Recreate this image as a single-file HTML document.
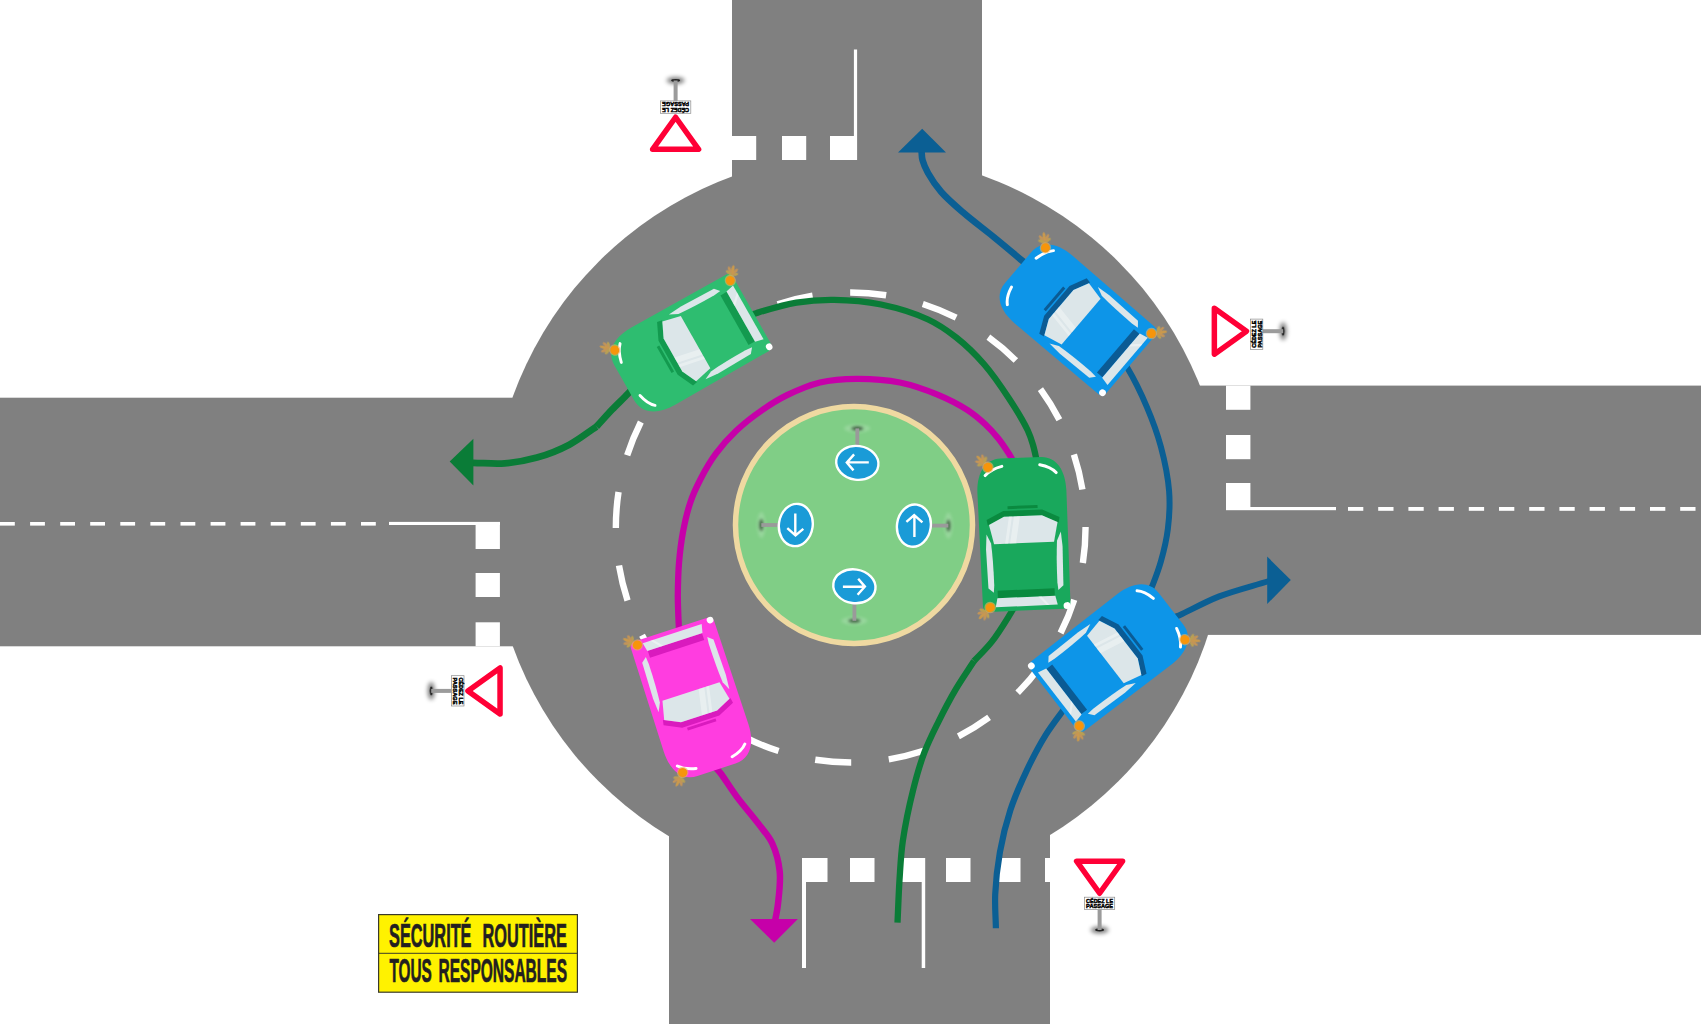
<!DOCTYPE html>
<html><head><meta charset="utf-8"><style>
html,body{margin:0;padding:0;background:#fff;overflow:hidden;}
svg{display:block;}
</style></head><body>
<svg width="1701" height="1024" viewBox="0 0 1701 1024">
<defs><filter id="blur" x="-100%" y="-100%" width="300%" height="300%"><feGaussianBlur stdDeviation="1.6"/></filter><filter id="blur5" x="-50%" y="-50%" width="200%" height="200%"><feGaussianBlur stdDeviation="0.5"/></filter><filter id="blur2" x="-100%" y="-100%" width="300%" height="300%"><feGaussianBlur stdDeviation="2.2"/></filter></defs>
<rect x="732" y="0" width="250" height="200" fill="#808080"/>
<rect x="669" y="800" width="381" height="224" fill="#808080"/>
<rect x="0" y="397.7" width="540" height="248.6" fill="#808080"/>
<rect x="1170" y="385.6" width="531" height="249.3" fill="#808080"/>
<circle cx="858.5" cy="521.5" r="367.5" fill="#808080"/>
<rect x="0.0" y="522" width="14.8" height="3.6" fill="#fff"/>
<rect x="30.1" y="522" width="14.8" height="3.6" fill="#fff"/>
<rect x="60.2" y="522" width="14.8" height="3.6" fill="#fff"/>
<rect x="90.2" y="522" width="14.8" height="3.6" fill="#fff"/>
<rect x="120.3" y="522" width="14.8" height="3.6" fill="#fff"/>
<rect x="150.4" y="522" width="14.8" height="3.6" fill="#fff"/>
<rect x="180.5" y="522" width="14.8" height="3.6" fill="#fff"/>
<rect x="210.6" y="522" width="14.8" height="3.6" fill="#fff"/>
<rect x="240.6" y="522" width="14.8" height="3.6" fill="#fff"/>
<rect x="270.7" y="522" width="14.8" height="3.6" fill="#fff"/>
<rect x="300.8" y="522" width="14.8" height="3.6" fill="#fff"/>
<rect x="330.9" y="522" width="14.8" height="3.6" fill="#fff"/>
<rect x="361.0" y="522" width="14.8" height="3.6" fill="#fff"/>
<rect x="389" y="521.9" width="111" height="3.1" fill="#fff"/>
<rect x="475.6" y="525" width="24.3" height="24" fill="#fff"/>
<rect x="475.6" y="573" width="24.3" height="24" fill="#fff"/>
<rect x="475.6" y="622.3" width="24.3" height="24" fill="#fff"/>
<rect x="1226" y="507" width="110" height="3.2" fill="#fff"/>
<rect x="1226" y="385.6" width="24.4" height="24.2" fill="#fff"/>
<rect x="1226" y="435" width="24.4" height="24.2" fill="#fff"/>
<rect x="1226" y="483" width="24.4" height="24.2" fill="#fff"/>
<rect x="1348.0" y="507" width="15.3" height="3.8" fill="#fff"/>
<rect x="1378.2" y="507" width="15.3" height="3.8" fill="#fff"/>
<rect x="1408.4" y="507" width="15.3" height="3.8" fill="#fff"/>
<rect x="1438.6" y="507" width="15.3" height="3.8" fill="#fff"/>
<rect x="1468.8" y="507" width="15.3" height="3.8" fill="#fff"/>
<rect x="1499.0" y="507" width="15.3" height="3.8" fill="#fff"/>
<rect x="1529.2" y="507" width="15.3" height="3.8" fill="#fff"/>
<rect x="1559.4" y="507" width="15.3" height="3.8" fill="#fff"/>
<rect x="1589.6" y="507" width="15.3" height="3.8" fill="#fff"/>
<rect x="1619.8" y="507" width="15.3" height="3.8" fill="#fff"/>
<rect x="1650.0" y="507" width="15.3" height="3.8" fill="#fff"/>
<rect x="1680.2" y="507" width="15.3" height="3.8" fill="#fff"/>
<rect x="732" y="136" width="24.2" height="24" fill="#fff"/>
<rect x="782" y="136" width="24.2" height="24" fill="#fff"/>
<rect x="830" y="136" width="24.2" height="24" fill="#fff"/>
<rect x="853.9" y="49.5" width="3.2" height="110.5" fill="#fff"/>
<rect x="803" y="858" width="24.5" height="24" fill="#fff"/>
<rect x="850" y="858" width="24.5" height="24" fill="#fff"/>
<rect x="900.5" y="858" width="24.5" height="24" fill="#fff"/>
<rect x="946" y="858" width="24.5" height="24" fill="#fff"/>
<rect x="996" y="858" width="24.5" height="24" fill="#fff"/>
<rect x="1045" y="858" width="24.5" height="24" fill="#fff"/>
<rect x="1045" y="858" width="10" height="24" fill="#fff"/>
<rect x="802" y="858" width="4" height="110" fill="#fff"/>
<rect x="921.7" y="858" width="3.5" height="110" fill="#fff"/>
<path d="M1073.88,454.55 A234.8,234.8 0 1 1 627.52,600.45 A234.8,234.8 0 1 1 1073.88,454.55" fill="none" stroke="#fff" stroke-width="6.4" stroke-dasharray="36.06 37.70"/>
<circle cx="854" cy="525" r="118.5" fill="#80CE86" stroke="#EFD9A1" stroke-width="5.5"/>
<g transform="translate(854.4,586.3) rotate(0)"><ellipse cx="0" cy="34.5" rx="13" ry="4" fill="#fff" opacity="0.18" filter="url(#blur)"/><ellipse cx="0" cy="34.5" rx="6" ry="1.8" fill="#000" opacity="0.6" filter="url(#blur)"/><rect x="-1.9" y="17" width="3.8" height="17.5" fill="#9a9a9a"/><ellipse cx="0" cy="0" rx="21.2" ry="16.9" transform="rotate(8)" fill="#1A9BD7" stroke="#fff" stroke-width="2.4"/><path d="M-11.5,0.5 H10.5 M3.8,-7.5 L10.5,0.3 L3.2,8.5" fill="none" stroke="#fff" stroke-width="2.4"/></g>
<g transform="translate(857.3,462.9) rotate(180)"><ellipse cx="0" cy="34.5" rx="13" ry="4" fill="#fff" opacity="0.18" filter="url(#blur)"/><ellipse cx="0" cy="34.5" rx="6" ry="1.8" fill="#000" opacity="0.6" filter="url(#blur)"/><rect x="-1.9" y="17" width="3.8" height="17.5" fill="#9a9a9a"/><ellipse cx="0" cy="0" rx="21.2" ry="16.9" transform="rotate(8)" fill="#1A9BD7" stroke="#fff" stroke-width="2.4"/><path d="M-11.5,0.5 H10.5 M3.8,-7.5 L10.5,0.3 L3.2,8.5" fill="none" stroke="#fff" stroke-width="2.4"/></g>
<g transform="translate(795.8,525) rotate(90)"><ellipse cx="0" cy="34.5" rx="13" ry="4" fill="#fff" opacity="0.18" filter="url(#blur)"/><ellipse cx="0" cy="34.5" rx="6" ry="1.8" fill="#000" opacity="0.6" filter="url(#blur)"/><rect x="-1.9" y="17" width="3.8" height="17.5" fill="#9a9a9a"/><ellipse cx="0" cy="0" rx="21.2" ry="16.9" transform="rotate(8)" fill="#1A9BD7" stroke="#fff" stroke-width="2.4"/><path d="M-11.5,0.5 H10.5 M3.8,-7.5 L10.5,0.3 L3.2,8.5" fill="none" stroke="#fff" stroke-width="2.4"/></g>
<g transform="translate(913.9,525.6) rotate(-90)"><ellipse cx="0" cy="34.5" rx="13" ry="4" fill="#fff" opacity="0.18" filter="url(#blur)"/><ellipse cx="0" cy="34.5" rx="6" ry="1.8" fill="#000" opacity="0.6" filter="url(#blur)"/><rect x="-1.9" y="17" width="3.8" height="17.5" fill="#9a9a9a"/><ellipse cx="0" cy="0" rx="21.2" ry="16.9" transform="rotate(8)" fill="#1A9BD7" stroke="#fff" stroke-width="2.4"/><path d="M-11.5,0.5 H10.5 M3.8,-7.5 L10.5,0.3 L3.2,8.5" fill="none" stroke="#fff" stroke-width="2.4"/></g>
<path d="M897.5,922.6 C898.2,908.4 898.6,893.9 899.5,880.0 C900.4,866.7 900.8,854.9 902.8,841.1 C905.1,825.3 909.1,806.0 913.0,790.4 C916.4,776.7 919.9,764.2 924.4,752.4 C928.5,741.5 933.3,732.1 938.4,721.8 C943.8,710.9 949.9,699.3 956.0,688.9 C961.8,679.1 968.0,670.3 974.0,661.0" fill="none" stroke="#0A7C37" stroke-width="6.3" stroke-linecap="butt" stroke-linejoin="round"/>
<path d="M974.0,661.0 C979.9,654.6 986.1,649.0 991.7,641.9 C998.0,634.0 1005.1,622.3 1009.5,615.2 C1012.3,610.7 1013.8,607.7 1016.0,604.0" fill="none" stroke="#0A7C37" stroke-width="6.3" stroke-linecap="butt" stroke-linejoin="round"/>
<path d="M1037.0,462.0 C1035.7,456.3 1034.6,450.4 1033.0,445.0 C1031.5,439.9 1030.4,436.1 1027.8,430.5 C1023.7,421.8 1016.0,409.1 1009.0,398.5 C1001.6,387.2 993.4,375.0 984.5,364.7 C975.8,354.7 966.1,345.2 956.3,337.5 C947.2,330.4 939.1,324.6 928.1,319.5 C914.8,313.2 896.9,307.8 881.1,304.5 C865.6,301.3 848.9,300.0 834.1,299.8 C820.8,299.6 809.0,300.5 796.4,302.6 C783.3,304.8 766.2,310.1 756.9,312.9 C751.7,314.5 749.0,315.6 745.0,317.0" fill="none" stroke="#0A7C37" stroke-width="6.3" stroke-linecap="butt" stroke-linejoin="round"/>
<path d="M635.0,386.0 C632.5,388.7 630.5,391.1 627.5,394.2 C623.3,398.6 617.1,404.4 612.0,409.7 C606.8,415.2 601.7,421.0 596.5,426.6" fill="none" stroke="#0A7C37" stroke-width="6.8" stroke-linecap="butt" stroke-linejoin="round"/>
<path d="M596.5,426.6 C587.4,432.6 579.0,439.6 569.3,444.7 C559.3,450.0 547.9,454.5 537.0,457.6 C526.4,460.6 515.5,462.5 504.7,463.4 C494.1,464.2 483.6,463.0 473.0,462.8" fill="none" stroke="#0A7C37" stroke-width="6.8" stroke-linecap="butt" stroke-linejoin="round"/>
<path d="M449.7,461.5 L473.4,438.8 L473.4,485.4 Z" fill="#0A7C37"/>
<path d="M1014.0,463.0 C1013.2,461.3 1012.6,459.9 1011.5,458.0 C1010.0,455.3 1007.7,451.7 1005.5,448.5 C1003.1,444.9 1000.6,441.2 997.5,437.5 C994.0,433.2 989.8,428.6 985.2,424.3 C980.0,419.5 974.5,414.7 967.6,410.2 C959.1,404.7 948.3,399.2 937.5,394.7 C925.8,389.8 913.0,385.2 899.9,382.5 C886.1,379.7 870.4,378.7 856.6,378.8 C843.9,378.9 831.7,379.7 820.0,382.5 C808.5,385.2 797.1,390.3 787.0,395.2 C777.8,399.7 769.9,404.7 761.6,410.5 C752.9,416.5 743.9,423.5 736.2,430.8 C728.7,437.9 721.9,445.6 715.9,453.7 C710.0,461.7 704.9,470.6 700.6,479.0 C696.6,486.7 693.3,493.6 690.5,501.9 C687.3,511.2 684.8,522.2 682.9,532.4 C681.0,542.5 679.9,552.5 679.0,562.9 C678.1,573.7 677.9,586.9 677.8,595.9 C677.8,602.2 678.0,606.5 678.2,612.0 C678.4,617.8 678.7,624.0 679.0,630.0" fill="none" stroke="#C600A9" stroke-width="6.3" stroke-linecap="butt" stroke-linejoin="round"/>
<path d="M716.0,768.0 C717.5,769.7 718.6,770.6 720.4,773.0 C724.3,778.0 731.0,788.9 737.1,797.1 C743.8,806.1 753.0,816.5 759.3,824.9 C764.3,831.6 769.0,836.3 772.3,843.5 C776.0,851.6 778.7,861.5 779.7,871.3 C780.8,881.8 778.9,895.6 777.9,904.7 C777.2,911.1 776.0,915.6 775.1,921.0" fill="none" stroke="#C600A9" stroke-width="6.5" stroke-linecap="butt" stroke-linejoin="round"/>
<path d="M750,919 L797.9,919 L774.2,942.7 Z" fill="#C600A9"/>
<path d="M921.5,150.0 C921.8,153.3 921.6,156.5 922.5,160.0 C923.6,164.1 925.5,168.4 928.0,173.0 C931.3,178.9 935.9,185.8 941.3,192.0 C947.4,199.0 955.2,205.6 963.2,212.5 C972.1,220.2 983.0,228.3 992.5,236.0 C1001.6,243.4 1013.2,253.1 1018.9,257.9 C1021.6,260.2 1023.0,261.3 1025.0,263.0" fill="none" stroke="#0B5F94" stroke-width="6.6" stroke-linecap="butt" stroke-linejoin="round"/>
<path d="M922.2,128.7 L946,152.5 L898,152.5 Z" fill="#0B5F94"/>
<path d="M1122.0,360.0 C1123.6,362.3 1124.9,363.6 1126.9,367.0 C1131.5,374.7 1141.1,393.3 1146.8,406.8 C1152.4,419.9 1157.2,432.9 1160.9,446.7 C1164.7,461.0 1168.0,476.9 1169.1,491.1 C1170.1,504.1 1169.4,516.6 1167.9,528.6 C1166.5,540.0 1163.7,551.5 1160.9,561.4 C1158.5,569.9 1155.0,579.0 1152.7,584.8 C1151.3,588.3 1150.2,590.3 1149.0,593.0" fill="none" stroke="#0B5F94" stroke-width="6" stroke-linecap="butt" stroke-linejoin="round"/>
<path d="M1175.0,617.0 C1176.8,616.2 1177.9,615.9 1180.5,614.7 C1187.5,611.6 1204.8,602.0 1218.6,596.6 C1234.0,590.6 1252.2,586.2 1269.0,581.0" fill="none" stroke="#0B5F94" stroke-width="6" stroke-linecap="butt" stroke-linejoin="round"/>
<path d="M1290.8,580 L1267.2,556.6 L1267.2,604 Z" fill="#0B5F94"/>
<path d="M1068.0,704.0 C1066.4,706.2 1065.2,707.6 1063.1,710.5 C1059.0,716.0 1051.3,726.0 1045.6,735.1 C1039.1,745.6 1032.6,758.1 1026.8,770.3 C1020.8,783.0 1014.9,796.4 1010.4,810.0 C1005.9,823.7 1002.4,838.0 999.9,852.2 C997.4,866.2 995.8,881.1 995.2,894.4 C994.7,906.3 995.7,917.0 995.9,928.3" fill="none" stroke="#0B5F94" stroke-width="6.2" stroke-linecap="butt" stroke-linejoin="round"/>
<g transform="translate(685.5,347.9) rotate(-119.5) translate(0,2.90) scale(-1,0.962)"><path d="M0,-76.3 L20,-76.3 C36,-76.3 44.5,-62 44.5,-42 L43.8,70 Q43.8,76.4 37.5,76.4 L-37.5,76.4 Q-43.8,76.4 -43.8,70 L-44.5,-42 C-44.5,-62 -36,-76.3 -20,-76.3 Z" fill="#2EBD70"/><path d="M-36,-60 Q-30,-66 -19,-68.5 M19,-68.5 Q30,-66 35,-60" fill="none" stroke="#fff" stroke-width="3" stroke-linecap="round"/><rect x="-15" y="-28.5" width="30" height="3" fill="#139A4F"/><path d="M-36.5,-15.5 L-19.5,-23.8 L19.5,-23.8 L36.5,-15.5 L35.5,-10 L19,-18 L-19,-18 L-35.5,-10 Z" fill="#139A4F"/><path d="M-34.3,-10.5 L-19,-18 L19,-18 L34.3,-10.5 L30,9 L-30,9 Z" fill="#DCE6E9"/><g transform="scale(-1,1)"><path d="M-14,-18 L-19,9 L-16,9 L-11,-18 Z M-9,-18 L-14,9 L-8,9 L-3,-18 Z" fill="#fff" opacity="0.35"/></g><path d="M-37.2,-1 L-38.3,14 L-37.5,53 L-32.3,57.5 L-31.6,50 Q-31.5,25 -33,8 Z" fill="#DCE6E9"/><path d="M37.2,-1 L38.3,14 L37.5,53 L32.3,57.5 L31.6,50 Q31.5,25 33,8 Z" fill="#DCE6E9"/><path d="M-28.5,55.5 L28.5,55.5 L28.5,63 L-28.5,63 Z" fill="#139A4F"/><path d="M-29,63 L29,63 L31,72 L-31,72 Z" fill="#DCE6E9"/><g transform="scale(-1,1)"><path d="M12,63 L20,72 L23,72 L15,63 Z" fill="#fff" opacity="0.4"/></g><circle cx="40.2" cy="73.3" r="3.4" fill="#fff"/><g opacity="0.8" filter="url(#blur5)"><ellipse cx="-40.1" cy="-71.3" rx="3.6" ry="1.5" transform="rotate(-195 -40.1 -71.3)" fill="#C8A848"/><ellipse cx="-41.0" cy="-73.5" rx="4.6" ry="1.5" transform="rotate(-163 -41.0 -73.5)" fill="#D49A50"/><ellipse cx="-40.1" cy="-76.1" rx="5.2" ry="1.5" transform="rotate(-132 -40.1 -76.1)" fill="#DDA040"/><ellipse cx="-37.4" cy="-76.7" rx="4.6" ry="1.5" transform="rotate(-100 -37.4 -76.7)" fill="#D49A50"/><ellipse cx="-35.3" cy="-75.5" rx="3.6" ry="1.5" transform="rotate(-69 -35.3 -75.5)" fill="#C8A848"/></g><circle cx="-32.9" cy="-68.1" r="5.8" fill="#E8B060" opacity="0.6"/><circle cx="-32.9" cy="-68.1" r="4.6" fill="#F7950B"/><g opacity="0.8" filter="url(#blur5)"><ellipse cx="-39.6" cy="79.2" rx="3.6" ry="1.5" transform="rotate(74 -39.6 79.2)" fill="#C8A848"/><ellipse cx="-41.8" cy="80.2" rx="4.6" ry="1.5" transform="rotate(105 -41.8 80.2)" fill="#D49A50"/><ellipse cx="-44.4" cy="79.4" rx="5.2" ry="1.5" transform="rotate(137 -44.4 79.4)" fill="#DDA040"/><ellipse cx="-45.1" cy="76.7" rx="4.6" ry="1.5" transform="rotate(168 -45.1 76.7)" fill="#D49A50"/><ellipse cx="-44.0" cy="74.6" rx="3.6" ry="1.5" transform="rotate(200 -44.0 74.6)" fill="#C8A848"/></g><circle cx="-36.6" cy="72" r="5.8" fill="#E8B060" opacity="0.6"/><circle cx="-36.6" cy="72" r="4.6" fill="#F7950B"/></g>
<g transform="translate(1072.8,314.5) rotate(-49.5) translate(0,2.14) scale(-1,0.972)"><path d="M0,-76.3 L20,-76.3 C36,-76.3 44.5,-62 44.5,-42 L43.8,70 Q43.8,76.4 37.5,76.4 L-37.5,76.4 Q-43.8,76.4 -43.8,70 L-44.5,-42 C-44.5,-62 -36,-76.3 -20,-76.3 Z" fill="#0D95E8"/><path d="M-36,-60 Q-30,-66 -19,-68.5 M19,-68.5 Q30,-66 35,-60" fill="none" stroke="#fff" stroke-width="3" stroke-linecap="round"/><rect x="-15" y="-28.5" width="30" height="3" fill="#0B5B94"/><path d="M-36.5,-15.5 L-19.5,-23.8 L19.5,-23.8 L36.5,-15.5 L35.5,-10 L19,-18 L-19,-18 L-35.5,-10 Z" fill="#0B5B94"/><path d="M-34.3,-10.5 L-19,-18 L19,-18 L34.3,-10.5 L30,9 L-30,9 Z" fill="#DCE6E9"/><g transform="scale(-1,1)"><path d="M-14,-18 L-19,9 L-16,9 L-11,-18 Z M-9,-18 L-14,9 L-8,9 L-3,-18 Z" fill="#fff" opacity="0.35"/></g><path d="M-37.2,-1 L-38.3,14 L-37.5,53 L-32.3,57.5 L-31.6,50 Q-31.5,25 -33,8 Z" fill="#DCE6E9"/><path d="M37.2,-1 L38.3,14 L37.5,53 L32.3,57.5 L31.6,50 Q31.5,25 33,8 Z" fill="#DCE6E9"/><path d="M-28.5,55.5 L28.5,55.5 L28.5,63 L-28.5,63 Z" fill="#0B5B94"/><path d="M-29,63 L29,63 L31,72 L-31,72 Z" fill="#DCE6E9"/><g transform="scale(-1,1)"><path d="M12,63 L20,72 L23,72 L15,63 Z" fill="#fff" opacity="0.4"/></g><circle cx="40.2" cy="73.3" r="3.4" fill="#fff"/><g opacity="0.8" filter="url(#blur5)"><ellipse cx="-40.1" cy="-71.3" rx="3.6" ry="1.5" transform="rotate(-195 -40.1 -71.3)" fill="#C8A848"/><ellipse cx="-41.0" cy="-73.5" rx="4.6" ry="1.5" transform="rotate(-163 -41.0 -73.5)" fill="#D49A50"/><ellipse cx="-40.1" cy="-76.1" rx="5.2" ry="1.5" transform="rotate(-132 -40.1 -76.1)" fill="#DDA040"/><ellipse cx="-37.4" cy="-76.7" rx="4.6" ry="1.5" transform="rotate(-100 -37.4 -76.7)" fill="#D49A50"/><ellipse cx="-35.3" cy="-75.5" rx="3.6" ry="1.5" transform="rotate(-69 -35.3 -75.5)" fill="#C8A848"/></g><circle cx="-32.9" cy="-68.1" r="5.8" fill="#E8B060" opacity="0.6"/><circle cx="-32.9" cy="-68.1" r="4.6" fill="#F7950B"/><g opacity="0.8" filter="url(#blur5)"><ellipse cx="-39.6" cy="79.2" rx="3.6" ry="1.5" transform="rotate(74 -39.6 79.2)" fill="#C8A848"/><ellipse cx="-41.8" cy="80.2" rx="4.6" ry="1.5" transform="rotate(105 -41.8 80.2)" fill="#D49A50"/><ellipse cx="-44.4" cy="79.4" rx="5.2" ry="1.5" transform="rotate(137 -44.4 79.4)" fill="#DDA040"/><ellipse cx="-45.1" cy="76.7" rx="4.6" ry="1.5" transform="rotate(168 -45.1 76.7)" fill="#D49A50"/><ellipse cx="-44.0" cy="74.6" rx="3.6" ry="1.5" transform="rotate(200 -44.0 74.6)" fill="#C8A848"/></g><circle cx="-36.6" cy="72" r="5.8" fill="#E8B060" opacity="0.6"/><circle cx="-36.6" cy="72" r="4.6" fill="#F7950B"/></g>
<g transform="translate(1023.7,534) rotate(-2.44) translate(0,0.00) scale(1,1.0)"><path d="M0,-76.3 L20,-76.3 C36,-76.3 44.5,-62 44.5,-42 L43.8,70 Q43.8,76.4 37.5,76.4 L-37.5,76.4 Q-43.8,76.4 -43.8,70 L-44.5,-42 C-44.5,-62 -36,-76.3 -20,-76.3 Z" fill="#19A85C"/><path d="M-36,-60 Q-30,-66 -19,-68.5 M19,-68.5 Q30,-66 35,-60" fill="none" stroke="#fff" stroke-width="3" stroke-linecap="round"/><rect x="-15" y="-28.5" width="30" height="3" fill="#0A8A3F"/><path d="M-36.5,-15.5 L-19.5,-23.8 L19.5,-23.8 L36.5,-15.5 L35.5,-10 L19,-18 L-19,-18 L-35.5,-10 Z" fill="#0A8A3F"/><path d="M-34.3,-10.5 L-19,-18 L19,-18 L34.3,-10.5 L30,9 L-30,9 Z" fill="#DCE6E9"/><g transform="scale(1,1)"><path d="M-14,-18 L-19,9 L-16,9 L-11,-18 Z M-9,-18 L-14,9 L-8,9 L-3,-18 Z" fill="#fff" opacity="0.35"/></g><path d="M-37.2,-1 L-38.3,14 L-37.5,53 L-32.3,57.5 L-31.6,50 Q-31.5,25 -33,8 Z" fill="#DCE6E9"/><path d="M37.2,-1 L38.3,14 L37.5,53 L32.3,57.5 L31.6,50 Q31.5,25 33,8 Z" fill="#DCE6E9"/><path d="M-28.5,55.5 L28.5,55.5 L28.5,63 L-28.5,63 Z" fill="#0A8A3F"/><path d="M-29,63 L29,63 L31,72 L-31,72 Z" fill="#DCE6E9"/><g transform="scale(1,1)"><path d="M12,63 L20,72 L23,72 L15,63 Z" fill="#fff" opacity="0.4"/></g><circle cx="40.2" cy="73.3" r="3.4" fill="#fff"/><g opacity="0.8" filter="url(#blur5)"><ellipse cx="-40.1" cy="-71.3" rx="3.6" ry="1.5" transform="rotate(-195 -40.1 -71.3)" fill="#C8A848"/><ellipse cx="-41.0" cy="-73.5" rx="4.6" ry="1.5" transform="rotate(-163 -41.0 -73.5)" fill="#D49A50"/><ellipse cx="-40.1" cy="-76.1" rx="5.2" ry="1.5" transform="rotate(-132 -40.1 -76.1)" fill="#DDA040"/><ellipse cx="-37.4" cy="-76.7" rx="4.6" ry="1.5" transform="rotate(-100 -37.4 -76.7)" fill="#D49A50"/><ellipse cx="-35.3" cy="-75.5" rx="3.6" ry="1.5" transform="rotate(-69 -35.3 -75.5)" fill="#C8A848"/></g><circle cx="-32.9" cy="-68.1" r="5.8" fill="#E8B060" opacity="0.6"/><circle cx="-32.9" cy="-68.1" r="4.6" fill="#F7950B"/><g opacity="0.8" filter="url(#blur5)"><ellipse cx="-39.6" cy="79.2" rx="3.6" ry="1.5" transform="rotate(74 -39.6 79.2)" fill="#C8A848"/><ellipse cx="-41.8" cy="80.2" rx="4.6" ry="1.5" transform="rotate(105 -41.8 80.2)" fill="#D49A50"/><ellipse cx="-44.4" cy="79.4" rx="5.2" ry="1.5" transform="rotate(137 -44.4 79.4)" fill="#DDA040"/><ellipse cx="-45.1" cy="76.7" rx="4.6" ry="1.5" transform="rotate(168 -45.1 76.7)" fill="#D49A50"/><ellipse cx="-44.0" cy="74.6" rx="3.6" ry="1.5" transform="rotate(200 -44.0 74.6)" fill="#C8A848"/></g><circle cx="-36.6" cy="72" r="5.8" fill="#E8B060" opacity="0.6"/><circle cx="-36.6" cy="72" r="4.6" fill="#F7950B"/></g>
<g transform="translate(1114,652.8) rotate(52.3) translate(0,2.14) scale(-1,0.972)"><path d="M0,-76.3 L20,-76.3 C36,-76.3 44.5,-62 44.5,-42 L43.8,70 Q43.8,76.4 37.5,76.4 L-37.5,76.4 Q-43.8,76.4 -43.8,70 L-44.5,-42 C-44.5,-62 -36,-76.3 -20,-76.3 Z" fill="#0D95E8"/><path d="M-36,-60 Q-30,-66 -19,-68.5 M19,-68.5 Q30,-66 35,-60" fill="none" stroke="#fff" stroke-width="3" stroke-linecap="round"/><rect x="-15" y="-28.5" width="30" height="3" fill="#0B5B94"/><path d="M-36.5,-15.5 L-19.5,-23.8 L19.5,-23.8 L36.5,-15.5 L35.5,-10 L19,-18 L-19,-18 L-35.5,-10 Z" fill="#0B5B94"/><path d="M-34.3,-10.5 L-19,-18 L19,-18 L34.3,-10.5 L30,9 L-30,9 Z" fill="#DCE6E9"/><g transform="scale(-1,1)"><path d="M-14,-18 L-19,9 L-16,9 L-11,-18 Z M-9,-18 L-14,9 L-8,9 L-3,-18 Z" fill="#fff" opacity="0.35"/></g><path d="M-37.2,-1 L-38.3,14 L-37.5,53 L-32.3,57.5 L-31.6,50 Q-31.5,25 -33,8 Z" fill="#DCE6E9"/><path d="M37.2,-1 L38.3,14 L37.5,53 L32.3,57.5 L31.6,50 Q31.5,25 33,8 Z" fill="#DCE6E9"/><path d="M-28.5,55.5 L28.5,55.5 L28.5,63 L-28.5,63 Z" fill="#0B5B94"/><path d="M-29,63 L29,63 L31,72 L-31,72 Z" fill="#DCE6E9"/><g transform="scale(-1,1)"><path d="M12,63 L20,72 L23,72 L15,63 Z" fill="#fff" opacity="0.4"/></g><circle cx="40.2" cy="73.3" r="3.4" fill="#fff"/><g opacity="0.8" filter="url(#blur5)"><ellipse cx="-40.1" cy="-71.3" rx="3.6" ry="1.5" transform="rotate(-195 -40.1 -71.3)" fill="#C8A848"/><ellipse cx="-41.0" cy="-73.5" rx="4.6" ry="1.5" transform="rotate(-163 -41.0 -73.5)" fill="#D49A50"/><ellipse cx="-40.1" cy="-76.1" rx="5.2" ry="1.5" transform="rotate(-132 -40.1 -76.1)" fill="#DDA040"/><ellipse cx="-37.4" cy="-76.7" rx="4.6" ry="1.5" transform="rotate(-100 -37.4 -76.7)" fill="#D49A50"/><ellipse cx="-35.3" cy="-75.5" rx="3.6" ry="1.5" transform="rotate(-69 -35.3 -75.5)" fill="#C8A848"/></g><circle cx="-32.9" cy="-68.1" r="5.8" fill="#E8B060" opacity="0.6"/><circle cx="-32.9" cy="-68.1" r="4.6" fill="#F7950B"/><g opacity="0.8" filter="url(#blur5)"><ellipse cx="-39.6" cy="79.2" rx="3.6" ry="1.5" transform="rotate(74 -39.6 79.2)" fill="#C8A848"/><ellipse cx="-41.8" cy="80.2" rx="4.6" ry="1.5" transform="rotate(105 -41.8 80.2)" fill="#D49A50"/><ellipse cx="-44.4" cy="79.4" rx="5.2" ry="1.5" transform="rotate(137 -44.4 79.4)" fill="#DDA040"/><ellipse cx="-45.1" cy="76.7" rx="4.6" ry="1.5" transform="rotate(168 -45.1 76.7)" fill="#D49A50"/><ellipse cx="-44.0" cy="74.6" rx="3.6" ry="1.5" transform="rotate(200 -44.0 74.6)" fill="#C8A848"/></g><circle cx="-36.6" cy="72" r="5.8" fill="#E8B060" opacity="0.6"/><circle cx="-36.6" cy="72" r="4.6" fill="#F7950B"/></g>
<g transform="translate(694.5,702.3) rotate(162) translate(0,2.67) scale(-1,0.965)"><path d="M0,-76.3 L20,-76.3 C36,-76.3 44.5,-62 44.5,-42 L43.8,70 Q43.8,76.4 37.5,76.4 L-37.5,76.4 Q-43.8,76.4 -43.8,70 L-44.5,-42 C-44.5,-62 -36,-76.3 -20,-76.3 Z" fill="#FF3DE0"/><path d="M-36,-60 Q-30,-66 -19,-68.5 M19,-68.5 Q30,-66 35,-60" fill="none" stroke="#fff" stroke-width="3" stroke-linecap="round"/><rect x="-15" y="-28.5" width="30" height="3" fill="#D91BBE"/><path d="M-36.5,-15.5 L-19.5,-23.8 L19.5,-23.8 L36.5,-15.5 L35.5,-10 L19,-18 L-19,-18 L-35.5,-10 Z" fill="#D91BBE"/><path d="M-34.3,-10.5 L-19,-18 L19,-18 L34.3,-10.5 L30,9 L-30,9 Z" fill="#DCE6E9"/><g transform="scale(-1,1)"><path d="M-14,-18 L-19,9 L-16,9 L-11,-18 Z M-9,-18 L-14,9 L-8,9 L-3,-18 Z" fill="#fff" opacity="0.35"/></g><path d="M-37.2,-1 L-38.3,14 L-37.5,53 L-32.3,57.5 L-31.6,50 Q-31.5,25 -33,8 Z" fill="#DCE6E9"/><path d="M37.2,-1 L38.3,14 L37.5,53 L32.3,57.5 L31.6,50 Q31.5,25 33,8 Z" fill="#DCE6E9"/><path d="M-28.5,55.5 L28.5,55.5 L28.5,63 L-28.5,63 Z" fill="#D91BBE"/><path d="M-29,63 L29,63 L31,72 L-31,72 Z" fill="#DCE6E9"/><g transform="scale(-1,1)"><path d="M12,63 L20,72 L23,72 L15,63 Z" fill="#fff" opacity="0.4"/></g><circle cx="40.2" cy="73.3" r="3.4" fill="#fff"/><g opacity="0.8" filter="url(#blur5)"><ellipse cx="-40.1" cy="-71.3" rx="3.6" ry="1.5" transform="rotate(-195 -40.1 -71.3)" fill="#C8A848"/><ellipse cx="-41.0" cy="-73.5" rx="4.6" ry="1.5" transform="rotate(-163 -41.0 -73.5)" fill="#D49A50"/><ellipse cx="-40.1" cy="-76.1" rx="5.2" ry="1.5" transform="rotate(-132 -40.1 -76.1)" fill="#DDA040"/><ellipse cx="-37.4" cy="-76.7" rx="4.6" ry="1.5" transform="rotate(-100 -37.4 -76.7)" fill="#D49A50"/><ellipse cx="-35.3" cy="-75.5" rx="3.6" ry="1.5" transform="rotate(-69 -35.3 -75.5)" fill="#C8A848"/></g><circle cx="-32.9" cy="-68.1" r="5.8" fill="#E8B060" opacity="0.6"/><circle cx="-32.9" cy="-68.1" r="4.6" fill="#F7950B"/><g opacity="0.8" filter="url(#blur5)"><ellipse cx="-39.6" cy="79.2" rx="3.6" ry="1.5" transform="rotate(74 -39.6 79.2)" fill="#C8A848"/><ellipse cx="-41.8" cy="80.2" rx="4.6" ry="1.5" transform="rotate(105 -41.8 80.2)" fill="#D49A50"/><ellipse cx="-44.4" cy="79.4" rx="5.2" ry="1.5" transform="rotate(137 -44.4 79.4)" fill="#DDA040"/><ellipse cx="-45.1" cy="76.7" rx="4.6" ry="1.5" transform="rotate(168 -45.1 76.7)" fill="#D49A50"/><ellipse cx="-44.0" cy="74.6" rx="3.6" ry="1.5" transform="rotate(200 -44.0 74.6)" fill="#C8A848"/></g><circle cx="-36.6" cy="72" r="5.8" fill="#E8B060" opacity="0.6"/><circle cx="-36.6" cy="72" r="4.6" fill="#F7950B"/></g>
<g transform="translate(1099.6,896) rotate(0)"><ellipse cx="0" cy="34" rx="9" ry="3.4" fill="#000" opacity="0.5" filter="url(#blur2)"/><ellipse cx="0" cy="34" rx="4.5" ry="1.4" fill="#000" opacity="0.75" filter="url(#blur5)"/><rect x="-2" y="13.6" width="4" height="20.4" fill="#9b9b9b"/><path d="M-23,-34.85 L23,-34.85 L0,-2.75 Z" fill="#fff" stroke="#FF0036" stroke-width="5.5" stroke-linejoin="round"/><g transform="translate(0,0)"><rect x="-15.2" y="1.2" width="30.3" height="12.4" fill="#fff" stroke="#8a8a8a" stroke-width="0.7"/><text x="0" y="6.6" font-family="Liberation Sans" font-weight="bold" font-size="5.6" text-anchor="middle" fill="#000" stroke="#000" stroke-width="0.45" textLength="27" lengthAdjust="spacingAndGlyphs">CÉDEZ LE</text><text x="0" y="12.4" font-family="Liberation Sans" font-weight="bold" font-size="5.6" text-anchor="middle" fill="#000" stroke="#000" stroke-width="0.45" textLength="27" lengthAdjust="spacingAndGlyphs">PASSAGE</text></g></g>
<g transform="translate(675.6,114.5) rotate(180)"><ellipse cx="0" cy="34" rx="9" ry="3.4" fill="#000" opacity="0.5" filter="url(#blur2)"/><ellipse cx="0" cy="34" rx="4.5" ry="1.4" fill="#000" opacity="0.75" filter="url(#blur5)"/><rect x="-2" y="13.6" width="4" height="20.4" fill="#9b9b9b"/><path d="M-23,-34.85 L23,-34.85 L0,-2.75 Z" fill="#fff" stroke="#FF0036" stroke-width="5.5" stroke-linejoin="round"/><g transform="translate(0,0)"><rect x="-15.2" y="1.2" width="30.3" height="12.4" fill="#fff" stroke="#8a8a8a" stroke-width="0.7"/><text x="0" y="6.6" font-family="Liberation Sans" font-weight="bold" font-size="5.6" text-anchor="middle" fill="#000" stroke="#000" stroke-width="0.45" textLength="27" lengthAdjust="spacingAndGlyphs">CÉDEZ LE</text><text x="0" y="12.4" font-family="Liberation Sans" font-weight="bold" font-size="5.6" text-anchor="middle" fill="#000" stroke="#000" stroke-width="0.45" textLength="27" lengthAdjust="spacingAndGlyphs">PASSAGE</text></g></g>
<g transform="translate(1249.2,331.2) rotate(-90)"><ellipse cx="0" cy="34" rx="9" ry="3.4" fill="#000" opacity="0.5" filter="url(#blur2)"/><ellipse cx="0" cy="34" rx="4.5" ry="1.4" fill="#000" opacity="0.75" filter="url(#blur5)"/><rect x="-2" y="13.6" width="4" height="20.4" fill="#9b9b9b"/><path d="M-23,-34.85 L23,-34.85 L0,-2.75 Z" fill="#fff" stroke="#FF0036" stroke-width="5.5" stroke-linejoin="round"/><g transform="translate(-3,0)"><rect x="-15.2" y="1.2" width="30.3" height="12.4" fill="#fff" stroke="#8a8a8a" stroke-width="0.7"/><text x="0" y="6.6" font-family="Liberation Sans" font-weight="bold" font-size="5.6" text-anchor="middle" fill="#000" stroke="#000" stroke-width="0.45" textLength="27" lengthAdjust="spacingAndGlyphs">CÉDEZ LE</text><text x="0" y="12.4" font-family="Liberation Sans" font-weight="bold" font-size="5.6" text-anchor="middle" fill="#000" stroke="#000" stroke-width="0.45" textLength="27" lengthAdjust="spacingAndGlyphs">PASSAGE</text></g></g>
<g transform="translate(465.2,690.9) rotate(90)"><ellipse cx="0" cy="34" rx="9" ry="3.4" fill="#000" opacity="0.5" filter="url(#blur2)"/><ellipse cx="0" cy="34" rx="4.5" ry="1.4" fill="#000" opacity="0.75" filter="url(#blur5)"/><rect x="-2" y="13.6" width="4" height="20.4" fill="#9b9b9b"/><path d="M-23,-34.85 L23,-34.85 L0,-2.75 Z" fill="#fff" stroke="#FF0036" stroke-width="5.5" stroke-linejoin="round"/><g transform="translate(0,0)"><rect x="-15.2" y="1.2" width="30.3" height="12.4" fill="#fff" stroke="#8a8a8a" stroke-width="0.7"/><text x="0" y="6.6" font-family="Liberation Sans" font-weight="bold" font-size="5.6" text-anchor="middle" fill="#000" stroke="#000" stroke-width="0.45" textLength="27" lengthAdjust="spacingAndGlyphs">CÉDEZ LE</text><text x="0" y="12.4" font-family="Liberation Sans" font-weight="bold" font-size="5.6" text-anchor="middle" fill="#000" stroke="#000" stroke-width="0.45" textLength="27" lengthAdjust="spacingAndGlyphs">PASSAGE</text></g></g>
<rect x="378.6" y="914.6" width="198.8" height="77.6" fill="#FFF200" stroke="#3a3a2a" stroke-width="1.2"/>
<line x1="378.6" y1="953.3" x2="577.4" y2="953.3" stroke="#3a3a2a" stroke-width="1"/>
<text x="389.1" y="947.3" font-family="Liberation Sans" font-weight="bold" font-size="32.4" fill="#231F20" stroke="#231F20" stroke-width="0.7" textLength="82.4" lengthAdjust="spacingAndGlyphs">SÉCURITÉ</text>
<text x="482.5" y="947.3" font-family="Liberation Sans" font-weight="bold" font-size="32.4" fill="#231F20" stroke="#231F20" stroke-width="0.7" textLength="84.3" lengthAdjust="spacingAndGlyphs">ROUTIÈRE</text>
<text x="389.4" y="982.2" font-family="Liberation Sans" font-weight="bold" font-size="32.4" fill="#231F20" stroke="#231F20" stroke-width="0.7" textLength="42.4" lengthAdjust="spacingAndGlyphs">TOUS</text>
<text x="438.5" y="982.2" font-family="Liberation Sans" font-weight="bold" font-size="32.4" fill="#231F20" stroke="#231F20" stroke-width="0.7" textLength="128.5" lengthAdjust="spacingAndGlyphs">RESPONSABLES</text>
</svg>
</body></html>
